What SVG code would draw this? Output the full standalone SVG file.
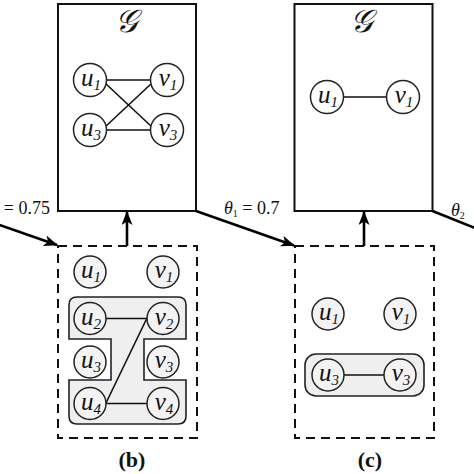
<svg xmlns="http://www.w3.org/2000/svg" width="474" height="474" viewBox="0 0 474 474">
<style>
.box{fill:#fff;stroke:#111;stroke-width:2}
.dbox{fill:#fff;stroke:#111;stroke-width:2;stroke-dasharray:9,6}
.n{fill:#fff;stroke:#222;stroke-width:1.5}
.ng{fill:#f3f3f3;stroke:#222;stroke-width:1.5}
.e{stroke:#111;stroke-width:1.6;fill:none}
.a{stroke:#000;stroke-width:2.6;fill:none}
.lbl{font-family:"Liberation Serif",serif;font-style:italic;font-size:25px;fill:#111}
.sub{font-size:15px}
.gl{font-family:"Liberation Serif","DejaVu Serif",serif;font-style:italic;font-size:32px;fill:#111}
.cap{font-family:"Liberation Serif",serif;font-weight:bold;font-size:22px;fill:#111}
.th{font-family:"Liberation Serif",serif;font-size:18px;fill:#111}
.grp{fill:#efefef;stroke:#222;stroke-width:1.6}
</style>
<defs>
<marker id="arr" viewBox="0 0 14 11" refX="13" refY="5.5" markerWidth="14" markerHeight="11" markerUnits="userSpaceOnUse" orient="auto">
<path d="M0,0 L14,5.5 L0,11 L3.5,5.5 z" fill="#000"/>
</marker>
</defs>

<g id="panel-b-graph">
<rect class="box" x="58" y="4" width="138" height="207"/>
<text class="gl" x="126" y="32" text-anchor="middle">𝒢</text>
</g>
<g id="panel-c-graph">
<rect class="box" x="294.5" y="4" width="138" height="207"/>
<text class="gl" x="361" y="32" text-anchor="middle">𝒢</text>
</g>
<g id="panel-b-part">
<rect class="dbox" x="58" y="246" width="139" height="192"/>
<path class="grp" d="M77,297 H178 Q186,297 186,305 V339 H144 V380 H186 V416 Q186,424 178,424 H77 Q69,424 69,416 V380 H111 V339 H69 V305 Q69,297 77,297 Z"/>
</g>
<g id="panel-c-part">
<rect class="dbox" x="295" y="246" width="139" height="192"/>
<rect class="grp" x="305" y="354" width="119" height="42" rx="11"/>
</g>

<g id="connectors">
<line class="e" x1="106" y1="80" x2="151" y2="80"/>
<line class="e" x1="106" y1="130" x2="151" y2="130"/>
<line class="e" x1="105" y1="83" x2="152" y2="127"/>
<line class="e" x1="105" y1="127" x2="152" y2="83"/>
<line class="e" x1="343" y1="97" x2="387" y2="97"/>
<line class="e" x1="106" y1="318.5" x2="147" y2="318.5"/>
<line class="e" x1="147" y1="318" x2="106" y2="403"/>
<line class="e" x1="106" y1="403.5" x2="147" y2="403.5"/>
<line class="e" x1="344" y1="375" x2="384" y2="375"/>
<line class="a" x1="127" y1="246" x2="127" y2="212" marker-end="url(#arr)"/>
<line class="a" x1="364" y1="246" x2="364" y2="212" marker-end="url(#arr)"/>
<line class="a" x1="-40" y1="211" x2="57" y2="245" marker-end="url(#arr)"/>
<line class="a" x1="196" y1="211" x2="294" y2="245.5" marker-end="url(#arr)"/>
<line class="a" x1="432.5" y1="211" x2="480" y2="230"/>
</g>

<g id="n-b-u1t"><circle class="n" cx="90" cy="80" r="16.5"/><text class="lbl" x="91" y="86" text-anchor="middle">u<tspan class="sub" dy="4">1</tspan></text></g>
<g id="n-b-v1t"><circle class="n" cx="167" cy="80" r="16.5"/><text class="lbl" x="168" y="86" text-anchor="middle">v<tspan class="sub" dy="4">1</tspan></text></g>
<g id="n-b-u3t"><circle class="n" cx="90" cy="130" r="16.5"/><text class="lbl" x="91" y="136" text-anchor="middle">u<tspan class="sub" dy="4">3</tspan></text></g>
<g id="n-b-v3t"><circle class="n" cx="167" cy="130" r="16.5"/><text class="lbl" x="168" y="136" text-anchor="middle">v<tspan class="sub" dy="4">3</tspan></text></g>

<g id="n-c-u1t"><circle class="n" cx="327" cy="97" r="16.5"/><text class="lbl" x="328" y="103" text-anchor="middle">u<tspan class="sub" dy="4">1</tspan></text></g>
<g id="n-c-v1t"><circle class="n" cx="403" cy="97" r="16.5"/><text class="lbl" x="404" y="103" text-anchor="middle">v<tspan class="sub" dy="4">1</tspan></text></g>

<g id="n-b-u1"><circle class="ng" cx="90" cy="272" r="16"/><text class="lbl" x="91" y="278" text-anchor="middle">u<tspan class="sub" dy="4">1</tspan></text></g>
<g id="n-b-v1"><circle class="ng" cx="163" cy="272" r="16"/><text class="lbl" x="164" y="278" text-anchor="middle">v<tspan class="sub" dy="4">1</tspan></text></g>
<g id="n-b-u2"><circle class="ng" cx="90" cy="318.5" r="16"/><text class="lbl" x="91" y="324.5" text-anchor="middle">u<tspan class="sub" dy="4">2</tspan></text></g>
<g id="n-b-v2"><circle class="ng" cx="163" cy="318.5" r="16"/><text class="lbl" x="164" y="324.5" text-anchor="middle">v<tspan class="sub" dy="4">2</tspan></text></g>
<g id="n-b-u3"><circle class="ng" cx="90" cy="362" r="16"/><text class="lbl" x="91" y="368" text-anchor="middle">u<tspan class="sub" dy="4">3</tspan></text></g>
<g id="n-b-v3"><circle class="ng" cx="163" cy="362" r="16"/><text class="lbl" x="164" y="368" text-anchor="middle">v<tspan class="sub" dy="4">3</tspan></text></g>
<g id="n-b-u4"><circle class="ng" cx="90" cy="403.5" r="16"/><text class="lbl" x="91" y="409.5" text-anchor="middle">u<tspan class="sub" dy="4">4</tspan></text></g>
<g id="n-b-v4"><circle class="ng" cx="163" cy="403.5" r="16"/><text class="lbl" x="164" y="409.5" text-anchor="middle">v<tspan class="sub" dy="4">4</tspan></text></g>

<g id="n-c-u1"><circle class="ng" cx="328" cy="314" r="16"/><text class="lbl" x="329" y="320" text-anchor="middle">u<tspan class="sub" dy="4">1</tspan></text></g>
<g id="n-c-v1"><circle class="ng" cx="400" cy="314" r="16"/><text class="lbl" x="401" y="320" text-anchor="middle">v<tspan class="sub" dy="4">1</tspan></text></g>
<g id="n-c-u3"><circle class="ng" cx="328" cy="375" r="16"/><text class="lbl" x="329" y="381" text-anchor="middle">u<tspan class="sub" dy="4">3</tspan></text></g>
<g id="n-c-v3"><circle class="ng" cx="400" cy="375" r="16"/><text class="lbl" x="401" y="381" text-anchor="middle">v<tspan class="sub" dy="4">3</tspan></text></g>

<g id="labels">
<text class="th" x="50" y="214" text-anchor="end">= 0.75</text>
<text class="th" x="224" y="214"><tspan font-style="italic">θ</tspan><tspan font-size="10" dy="3">1</tspan><tspan dy="-3"> = 0.7</tspan></text>
<text class="th" x="451" y="216"><tspan font-style="italic">θ</tspan><tspan font-size="10" dy="3">2</tspan></text>
<text class="cap" x="132" y="467" text-anchor="middle">(b)</text>
<text class="cap" x="370" y="467" text-anchor="middle">(c)</text>
</g>
</svg>
